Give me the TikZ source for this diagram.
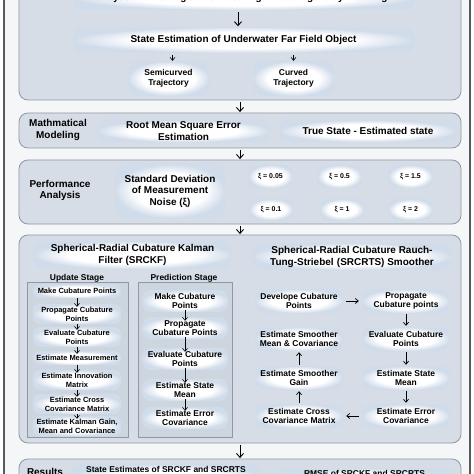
\documentclass[tikz,border=0pt]{standalone}
\usepackage{fontspec}
\setmainfont{Liberation Sans}
\usetikzlibrary{arrows.meta,calc}
\definecolor{glowblue}{HTML}{D1DCEA}
\definecolor{panelfill}{HTML}{D6DDE6}
\definecolor{panelline}{HTML}{8E99A6}
\definecolor{stagefill}{HTML}{CDD5DF}
\definecolor{framegray}{HTML}{5A5A5A}
\definecolor{bgwhite}{HTML}{F5F6F7}
\pgfdeclareradialshading{nodeglow}{\pgfpointorigin}{color(0bp)=(white); color(16bp)=(white); color(25bp)=(glowblue); color(50bp)=(glowblue)}
\tikzset{
 panel/.style={draw=panelline, fill=panelfill, rounded corners=9bp, line width=0.8bp, inner sep=0pt},
 stagebox/.style={draw=panelline, fill=stagefill, line width=0.7bp, inner sep=0pt},
 glow/.style={shade, shading=nodeglow, rounded corners=8bp, inner sep=1bp, align=center, text=black},
 fbig/.style={font=\bfseries\fontsize{10}{12}\selectfont},
 fmid/.style={font=\bfseries\fontsize{8.5}{9.5}\selectfont},
 fsmall/.style={font=\bfseries\fontsize{7.5}{8.8}\selectfont},
 fxi/.style={font=\bfseries\fontsize{7}{8}\selectfont},
 sidetext/.style={align=center, inner sep=0pt, text=black},
 arr/.style={-{Straight Barb[length=4bp,width=7bp]}, line width=0.9bp, black, shorten <=2bp, shorten >=0.5bp},
 sarr/.style={-{Straight Barb[length=3bp,width=5bp]}, line width=0.6bp, black},
 smnode/.style={glow, fsmall, minimum width=88bp, rounded corners=7bp},
 prnode/.style={glow, fmid, minimum width=86bp, minimum height=22bp, rounded corners=9bp},
 rtnode/.style={glow, fmid, minimum width=88bp, minimum height=24bp, rounded corners=9bp},
 xinode/.style={glow, fxi, minimum width=44bp, rounded corners=8bp},
}
\begin{document}
\begin{tikzpicture}[x=1bp,y=-1bp]
\useasboundingbox (0,0) rectangle (474,474);
\clip (0,0) rectangle (474,474);
\fill[white] (0,0) rectangle (474,474);
\fill[bgwhite] (4,-5) rectangle (470,480);
\draw[framegray, line width=1.4bp] (4,-5) -- (4,480);
\draw[framegray, line width=1.4bp] (470,-5) -- (470,480);

% ---------- panel 1
\node[panel, minimum width=442bp, minimum height=120bp] (p1) at (240,40) {};
\node[glow, fbig, minimum width=342bp, minimum height=24bp, rounded corners=10bp] (n0) at (244,-2) {Bayesian Filtering and Smoothing in Bearings Only Tracking};
\node[glow, fbig, minimum width=341bp, minimum height=26bp, rounded corners=10bp] (n1) at (243.5,40) {State Estimation of Underwater Far Field Object};
\node[glow, fmid, minimum width=81bp, minimum height=35bp, rounded corners=10bp] (n2) at (168.5,78.5) {Semicurved\\Trajectory};
\node[glow, fmid, minimum width=81bp, minimum height=35bp, rounded corners=10bp] (n3) at (293.5,78.5) {Curved\\Trajectory};
\draw[arr] ([xshift=-6bp]n0.south) -- ([xshift=-6bp]n0.south |- n1.north);
\draw[sarr, shorten <=2bp] ([xshift=4bp]n2.north |- n1.south) -- ([xshift=4bp]n2.north);
\draw[sarr, shorten <=2bp] (n3.north |- n1.south) -- (n3.north);

% ---------- panel 2
\node[panel, minimum width=442bp, minimum height=35bp] (p2) at (240,130.5) {};
\node[sidetext, fbig] (t2) at (58,130) {Mathmatical\\Modeling};
\node[glow, fbig, minimum width=173bp, minimum height=22bp, rounded corners=10bp] (n4) at (183.5,131) {Root Mean Square Error\\Estimation};
\node[glow, fbig, minimum width=178bp, minimum height=22bp, rounded corners=10bp] (n5) at (368,131) {True State - Estimated state};
\draw[arr] (p1.south) -- (p2.north);

% ---------- panel 3
\node[panel, minimum width=442bp, minimum height=64bp] (p3) at (240,192) {};
\node[sidetext, fbig, font=\bfseries\fontsize{10}{11}\selectfont] (t3) at (60,190.5) {Performance\\Analysis};
\node[glow, fbig, font=\bfseries\fontsize{10}{11.5}\selectfont, minimum width=110bp, minimum height=54bp, rounded corners=10bp] (n6) at (170,191) {Standard Deviation\\of Measurement\\Noise (ξ)};
\node[xinode, minimum height=23bp] (x1) at (270.5,176.5) {ξ = 0.05};
\node[xinode, minimum height=23bp] (x2) at (339.5,176.5) {ξ = 0.5};
\node[xinode, minimum height=23bp] (x3) at (410.5,176.5) {ξ = 1.5};
\node[xinode, minimum height=21bp] (x4) at (271,209.5) {ξ = 0.1};
\node[xinode, minimum height=21bp] (x5) at (342,209.5) {ξ = 1};
\node[xinode, minimum height=21bp] (x6) at (410.5,209.5) {ξ = 2};
\draw[arr] (p2.south) -- (p3.north);

% ---------- panel 4
\node[panel, minimum width=442bp, minimum height=208bp] (p4) at (240,339) {};
\draw[arr] (p3.south) -- (p4.north);
\node[glow, fbig, minimum width=199bp, minimum height=28bp, rounded corners=11bp] (k0) at (132.5,255) {Spherical-Radial Cubature Kalman\\Filter (SRCKF)};
\node[sidetext, fmid] (ut) at (77,278) {Update Stage};
\node[sidetext, fmid] (pt) at (184,278) {Prediction Stage};
\node[stagebox, minimum width=101bp, minimum height=155bp] (ub) at (77.5,359.5) {};
\node[stagebox, minimum width=94bp, minimum height=155bp] (pb) at (185,359.5) {};

\node[smnode, minimum height=14bp] (u1) at (77,291) {Make Cubature Points};
\node[smnode, minimum height=20bp] (u2) at (77,314) {Propagate Cubature\\Points};
\node[smnode, minimum height=20bp] (u3) at (77,337) {Evaluate Cubature\\Points};
\node[smnode, minimum height=14bp] (u4) at (77,358) {Estimate Measurement};
\node[smnode, minimum height=20bp] (u5) at (77,380) {Estimate Innovation\\Matrix};
\node[smnode, minimum height=20bp] (u6) at (77,404) {Estimate Cross\\Covariance Matrix};
\node[smnode, minimum height=20bp] (u7) at (77,426) {Estimate Kalman Gain,\\Mean and Covariance};
\foreach \a/\b in {u1/u2,u2/u3,u3/u4,u4/u5,u5/u6,u6/u7}
  \draw[sarr] (\a.south) -- ([yshift=-3bp]\b.north);

\node[prnode] (r1) at (185,301) {Make Cubature\\Points};
\node[prnode] (r2) at (185,328) {Propagate\\Cubature Points};
\node[prnode] (r3) at (185,359) {Evaluate Cubature\\Points};
\node[prnode] (r4) at (185,390) {Estimate State\\Mean};
\node[prnode] (r5) at (185,418) {Estimate Error\\Covariance};
\foreach \a/\b in {r1/r2,r2/r3,r3/r4,r4/r5}
  \draw[sarr] ([yshift=2bp]\a.south) -- ([yshift=-4bp]\b.north);

\node[glow, fbig, minimum width=200bp, minimum height=27bp, rounded corners=11bp] (s0) at (352,256.5) {Spherical-Radial Cubature Rauch-\\Tung-Striebel\,\,(SRCRTS) Smoother};
\node[rtnode] (s1) at (299,301) {Develope Cubature\\Points};
\node[rtnode] (s2) at (406,301) {Propagate\\Cubature points};
\node[rtnode] (s3) at (406,339) {Evaluate Cubature\\Points};
\node[rtnode] (s4) at (299,339) {Estimate Smoother\\Mean \& Covariance};
\node[rtnode] (s5) at (406,378) {Estimate State\\Mean};
\node[rtnode] (s6) at (299,378) {Estimate Smoother\\Gain};
\node[rtnode] (s7) at (406,416) {Estimate Error\\Covariance};
\node[rtnode] (s8) at (299,416) {Estimate Cross\\Covariance Matrix};
\draw[sarr, line width=0.7bp, shorten <=3bp, shorten >=3bp] (s1) -- (s2);
\draw[sarr, line width=0.7bp, shorten <=1bp, shorten >=1bp] (s2) -- (s3);
\draw[sarr, line width=0.7bp, shorten <=1bp, shorten >=1bp] (s3) -- (s5);
\draw[sarr, line width=0.7bp, shorten <=1bp, shorten >=1bp] (s5) -- (s7);
\draw[sarr, line width=0.7bp, shorten <=3bp, shorten >=3bp] (s7) -- (s8);
\draw[sarr, line width=0.7bp, shorten <=1bp, shorten >=1bp] (s8) -- (s6);
\draw[sarr, line width=0.7bp, shorten <=1bp, shorten >=1bp] (s6) -- (s4);

% ---------- panel 5
\node[panel, minimum width=442bp, minimum height=61bp] (p5) at (240,489.5) {};
\draw[arr] (p4.south) -- (p5.north);
\node[sidetext, fbig, anchor=north] (t5) at (45,468) {Results};
\node[glow, fmid, anchor=north, minimum width=192bp, text height=6.5bp, text depth=18bp, inner ysep=2bp, rounded corners=11bp] (e1) at (166,464) {State Estimates of SRCKF and SRCRTS};
\node[glow, fmid, anchor=north, minimum width=183bp, text height=6.5bp, text depth=18bp, inner ysep=2bp, rounded corners=11bp] (e2) at (364.5,468) {RMSE of SRCKF and SRCRTS};
\end{tikzpicture}
\end{document}
